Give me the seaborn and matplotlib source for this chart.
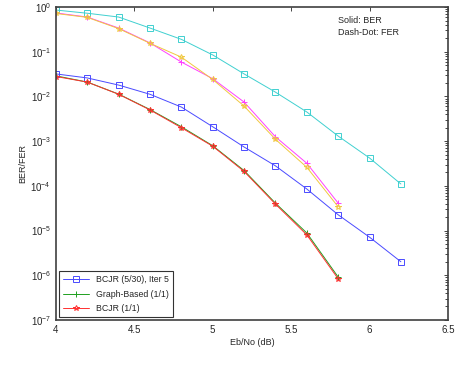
import numpy as np
import matplotlib
matplotlib.use("Agg")
import matplotlib.pyplot as plt
import pandas as pd
import seaborn as sns

# Eb/No points (dB)
ebno = [4.0, 4.2, 4.4, 4.6, 4.8, 5.0, 5.2, 5.4, 5.6, 5.8, 6.0, 6.2]
ebno_short = ebno[:10]

# BCJR (5/30), Iter 5
ber_bcjr530 = [0.032, 0.026, 0.018, 0.0112, 0.0058, 0.0021, 7.4e-4, 2.8e-4, 8.5e-5, 2.25e-5, 7.1e-6, 2.0e-6]
fer_bcjr530 = [0.86, 0.73, 0.60, 0.34, 0.19, 0.085, 0.032, 0.0125, 0.0045, 0.0013, 4.2e-4, 1.1e-4]

# Graph-Based (1/1)
ber_graph = [0.029, 0.021, 0.0113, 0.0051, 0.0021, 7.9e-4, 2.2e-4, 4.1e-5, 8.8e-6, 9.1e-7]
fer_graph = [0.74, 0.60, 0.34, 0.158, 0.059, 0.025, 0.0075, 0.00125, 3.2e-4, 4.1e-5]

# BCJR (1/1)
ber_bcjr11 = [0.028, 0.021, 0.0112, 0.0050, 0.0020, 7.7e-4, 2.1e-4, 3.9e-5, 8.0e-6, 8.3e-7]
fer_bcjr11 = [0.72, 0.59, 0.33, 0.155, 0.076, 0.024, 0.0061, 0.0011, 2.6e-4, 3.4e-5]

sns.set_style("white")
plt.rcParams['font.family'] = ['Liberation Sans', 'DejaVu Sans']

fig = plt.figure(figsize=(4.74, 3.75), dpi=100)
ax = fig.add_axes([0.118, 0.147, 0.827, 0.834])

sq = dict(markersize=5, markeredgewidth=0.7, linewidth=0.7)
st = dict(markersize=4, markeredgewidth=0.7, linewidth=0.7)

sns.lineplot(x=ebno, y=ber_bcjr530, ax=ax, color='#4a4aff', marker='s', mfc='none', mec='#4a4aff',
             label='BCJR (5/30), Iter 5', **sq)
sns.lineplot(x=ebno_short, y=ber_graph, ax=ax, color='#20a020', marker='+', mec='#20a020',
             label='Graph-Based (1/1)', **sq)
sns.lineplot(x=ebno_short, y=ber_bcjr11, ax=ax, color='#ff3030', marker='*', mfc='none', mec='#ff3030',
             label='BCJR (1/1)', **st)

sns.lineplot(x=ebno, y=fer_bcjr530, ax=ax, color='#40d0d0', marker='s', mfc='none', mec='#40d0d0',
             legend=False, **sq)
sns.lineplot(x=ebno_short, y=fer_graph, ax=ax, color='#ff40ff', marker='+', mec='#ff40ff',
             legend=False, **sq)
sns.lineplot(x=ebno_short, y=fer_bcjr11, ax=ax, color='#f0c840', marker='*', mfc='none', mec='#f0c840',
             legend=False, **st)

ax.set_yscale('log')
ax.set_xlim(4, 6.5)
ax.set_ylim(1e-7, 1e0)
ax.set_xticks([4, 4.5, 5, 5.5, 6, 6.5])
ax.set_xticklabels(['4', '4.5', '5', '5.5', '6', '6.5'])
ax.set_yticks([10.0**k for k in range(-7, 1)])
ax.tick_params(direction='in', labelsize=7, top=True, right=True, which='both', length=3, width=0.6)
ax.tick_params(which='minor', length=2)
for s in ax.spines.values():
    s.set_linewidth(1.2)
    s.set_color('#404040')

ax.set_xlabel('Eb/No (dB)', fontsize=6.5, labelpad=2)
ax.set_ylabel('BER/FER', fontsize=6.5, labelpad=2)

ax.text(5.8, 0.62, 'Solid: BER\nDash-Dot: FER', fontsize=6.5, va='top', linespacing=1.3)

leg = ax.legend(loc='lower left', fontsize=6.3, frameon=True, fancybox=False, borderaxespad=0.3,
                handlelength=3.0, labelspacing=0.6, borderpad=0.5)
leg.get_frame().set_edgecolor('black')
leg.get_frame().set_linewidth(0.8)

fig.savefig('out.png', dpi=100)
